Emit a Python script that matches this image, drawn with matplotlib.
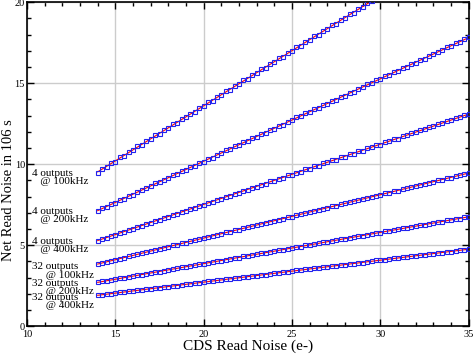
import numpy as np
import matplotlib
matplotlib.use("Agg")
import matplotlib.pyplot as plt
from matplotlib.ticker import MultipleLocator

plt.rcParams['font.family'] = ['Liberation Serif', 'DejaVu Serif']

# CDS read noise grid (e-)
cds = np.arange(14.0, 35.001, 0.25)

# net read noise
n4_100 = [9.48, 9.72, 9.83, 10.06, 10.15, 10.41, 10.50, 10.74, 10.85, 11.10, 11.18, 11.43,
          11.52, 11.79, 11.86, 12.10, 12.22, 12.45, 12.55, 12.80, 12.90, 13.12, 13.22, 13.47,
          13.57, 13.81, 13.90, 14.16, 14.24, 14.50, 14.60, 14.83, 14.92, 15.18, 15.28, 15.50,
          15.62, 15.86, 15.93, 16.19, 16.30, 16.53, 16.63, 16.88, 16.97, 17.21, 17.30, 17.56,
          17.64, 17.90, 17.98, 18.24, 18.33, 18.58, 18.66, 18.92, 19.00, 19.26, 19.35, 19.58,
          19.70, 19.93, 20.05]
n4_200 = [7.12, 7.27, 7.36, 7.53, 7.62, 7.78, 7.87, 8.05, 8.12, 8.30, 8.38, 8.55,
          8.62, 8.81, 8.88, 9.05, 9.14, 9.31, 9.40, 9.57, 9.64, 9.83, 9.90, 10.07,
          10.16, 10.34, 10.40, 10.59, 10.66, 10.85, 10.91, 11.10, 11.17, 11.36, 11.42, 11.61,
          11.68, 11.86, 11.93, 12.12, 12.19, 12.37, 12.44, 12.63, 12.70, 12.88, 12.95, 13.14,
          13.20, 13.39, 13.46, 13.65, 13.71, 13.90, 13.97, 14.15, 14.22, 14.41, 14.48, 14.66,
          14.73, 14.92, 14.99, 15.17, 15.24, 15.43, 15.49, 15.68, 15.75, 15.94, 16.00, 16.19,
          16.26, 16.45, 16.51, 16.70, 16.77, 16.95, 17.02, 17.21, 17.28, 17.46, 17.53, 17.72,
          17.82]
n4_400 = [5.28, 5.39, 5.45, 5.58, 5.63, 5.76, 5.82, 5.95, 6.00, 6.14, 6.19, 6.32,
          6.38, 6.51, 6.56, 6.69, 6.75, 6.88, 6.93, 7.07, 7.12, 7.25, 7.31, 7.44,
          7.49, 7.62, 7.68, 7.81, 7.86, 8.00, 8.05, 8.18, 8.24, 8.37, 8.42, 8.55,
          8.61, 8.74, 8.79, 8.93, 8.98, 9.11, 9.17, 9.30, 9.35, 9.48, 9.54, 9.67,
          9.72, 9.86, 9.91, 10.04, 10.10, 10.23, 10.28, 10.41, 10.47, 10.60, 10.65, 10.79,
          10.84, 10.97, 11.03, 11.16, 11.21, 11.34, 11.40, 11.53, 11.58, 11.72, 11.77, 11.90,
          11.96, 12.09, 12.14, 12.27, 12.33, 12.46, 12.51, 12.65, 12.70, 12.83, 12.89, 13.02,
          13.09]
n32_100 = [3.82, 3.91, 3.95, 4.04, 4.09, 4.17, 4.22, 4.31, 4.36, 4.44, 4.49, 4.58,
           4.62, 4.71, 4.76, 4.84, 4.89, 4.98, 5.02, 5.11, 5.16, 5.24, 5.29, 5.38,
           5.43, 5.51, 5.56, 5.65, 5.69, 5.78, 5.83, 5.91, 5.96, 6.05, 6.09, 6.18,
           6.23, 6.32, 6.36, 6.45, 6.50, 6.58, 6.63, 6.72, 6.76, 6.85, 6.90, 6.98,
           7.03, 7.12, 7.17, 7.25, 7.30, 7.39, 7.43, 7.52, 7.57, 7.65, 7.70, 7.79,
           7.83, 7.92, 7.97, 8.06, 8.10, 8.19, 8.24, 8.32, 8.37, 8.46, 8.50, 8.59,
           8.64, 8.72, 8.77, 8.86, 8.90, 8.99, 9.04, 9.13, 9.17, 9.26, 9.31, 9.39,
           9.45]
n32_200 = [2.70, 2.76, 2.79, 2.85, 2.88, 2.95, 2.98, 3.05, 3.08, 3.14, 3.17, 3.24,
           3.27, 3.34, 3.36, 3.43, 3.46, 3.53, 3.56, 3.63, 3.65, 3.72, 3.75, 3.82,
           3.85, 3.92, 3.94, 4.01, 4.04, 4.11, 4.14, 4.20, 4.23, 4.30, 4.33, 4.40,
           4.43, 4.49, 4.52, 4.59, 4.62, 4.69, 4.71, 4.78, 4.81, 4.88, 4.91, 4.98,
           5.00, 5.07, 5.10, 5.17, 5.20, 5.26, 5.29, 5.36, 5.39, 5.46, 5.49, 5.55,
           5.58, 5.65, 5.68, 5.75, 5.77, 5.84, 5.87, 5.94, 5.97, 6.04, 6.06, 6.13,
           6.16, 6.23, 6.26, 6.33, 6.35, 6.42, 6.45, 6.52, 6.55, 6.61, 6.64, 6.71,
           6.75]
n32_400 = [1.90, 1.94, 1.96, 2.01, 2.03, 2.08, 2.10, 2.15, 2.16, 2.22, 2.23, 2.28,
           2.30, 2.35, 2.36, 2.42, 2.43, 2.49, 2.50, 2.55, 2.57, 2.62, 2.64, 2.69,
           2.70, 2.76, 2.77, 2.83, 2.84, 2.89, 2.91, 2.96, 2.97, 3.03, 3.04, 3.10,
           3.11, 3.16, 3.18, 3.23, 3.25, 3.30, 3.31, 3.37, 3.38, 3.44, 3.45, 3.50,
           3.52, 3.57, 3.59, 3.64, 3.65, 3.71, 3.72, 3.77, 3.79, 3.84, 3.86, 3.91,
           3.92, 3.98, 3.99, 4.05, 4.06, 4.11, 4.13, 4.18, 4.19, 4.25, 4.26, 4.32,
           4.33, 4.38, 4.40, 4.45, 4.47, 4.52, 4.53, 4.59, 4.60, 4.66, 4.67, 4.72,
           4.75]

series = [n4_100, n4_200, n4_400, n32_100, n32_200, n32_400]
labels = [("4 outputs", "   @ 100kHz", 9.45),
          ("4 outputs", "   @ 200kHz", 7.05),
          ("4 outputs", "   @ 400kHz", 5.2),
          ("32 outputs", "     @ 100kHz", 3.65),
          ("32 outputs", "     @ 200kHz", 2.65),
          ("32 outputs", "     @ 400kHz", 1.75)]

fig = plt.figure(figsize=(4.74, 3.56), dpi=100)
ax = fig.add_axes([0.057, 0.084, 0.932, 0.91])

for ys in series:
    xs = cds[:len(ys)]
    p = np.polyfit(xs, ys, 1)
    ax.plot(xs, np.polyval(p, xs), color='red', lw=0.8, zorder=2)
    ax.plot(xs, ys, ls='none', marker='s', ms=3.5, mfc='none', mec='#2222ee',
            mew=0.8, zorder=3)

for top, bot, y in labels:
    ax.text(10.28, y, top, fontsize=8, va='center', ha='left', zorder=4)
    ax.text(10.28, y - 0.5, bot, fontsize=8, va='center', ha='left', zorder=4)

ax.set_xlim(10, 35)
ax.set_ylim(0, 20)
ax.xaxis.set_major_locator(MultipleLocator(5))
ax.xaxis.set_minor_locator(MultipleLocator(1))
ax.yaxis.set_major_locator(MultipleLocator(5))
ax.yaxis.set_minor_locator(MultipleLocator(1))
ax.tick_params(which='both', direction='in', top=True, right=True, labelsize=7.5, pad=3)
ax.tick_params(axis='y', which='major', pad=1.5)
ax.tick_params(which='major', length=5, width=1)
ax.tick_params(which='minor', length=3, width=1)
ax.grid(True, which='major', color='#cccccc', lw=1)
ax.set_axisbelow(True)
for s in ax.spines.values():
    s.set_linewidth(1.2)

ax.set_xlabel("CDS Read Noise (e-)", fontsize=11, labelpad=0)
ax.set_ylabel("Net Read Noise in 106 s", fontsize=10.5)
ax.yaxis.set_label_coords(-0.028, 0.42)

fig.savefig("out.png", dpi=100)
